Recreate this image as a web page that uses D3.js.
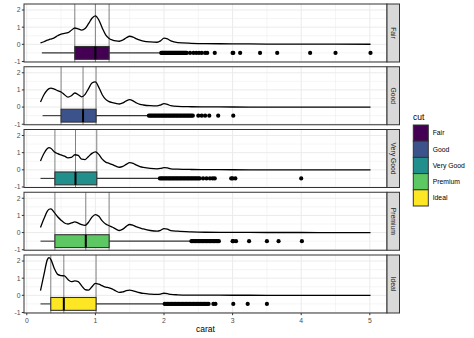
<!DOCTYPE html>
<html><head><meta charset="utf-8">
<script src="https://cdn.jsdelivr.net/npm/d3@7"></script>
<style>body{margin:0;background:#fff}svg{display:block}text{font-family:"Liberation Sans",Arial,sans-serif}</style>
</head><body>
<svg id="chart" width="474" height="338"></svg>
<script>
const cuts = ["Fair","Good","Very Good","Premium","Ideal"];
const cutColors = ["#440154","#3B528B","#21908C","#5DC863","#FDE725"];
const q1 = [0.70,0.50,0.41,0.41,0.35];
const median = [1.00,0.82,0.71,0.86,0.54];
const q3 = [1.20,1.01,1.02,1.20,1.01];
const whiskerLow = [0.22,0.23,0.20,0.20,0.20];
const whiskerHigh = [1.94,1.77,1.93,2.38,2.00];
const outliersFair = [1.96,1.97,1.98,1.99,2.00,2.01,2.02,2.03,2.04,2.05,2.06,2.07,2.08,2.09,2.10,2.11,2.12,2.13,2.14,2.15,2.16,2.17,2.18,2.19,2.20,2.21,2.22,2.23,2.24,2.25,2.26,2.27,2.28,2.29,2.30,2.31,2.32,2.33,2.38,2.43,2.47,2.51,2.55,2.60,2.63,2.74,3.00,3.01,3.11,3.40,3.65,4.13,4.50,5.01];
const outliersGood = [1.78,1.80,1.82,1.84,1.86,1.88,1.90,1.92,1.94,1.96,1.98,2.00,2.02,2.04,2.06,2.08,2.10,2.12,2.14,2.16,2.18,2.20,2.22,2.24,2.26,2.28,2.30,2.32,2.34,2.36,2.38,2.40,2.42,2.50,2.55,2.60,2.66,2.79,3.01];
const outliersVeryGood = [1.94,1.96,1.98,2.00,2.02,2.04,2.06,2.08,2.10,2.12,2.14,2.16,2.18,2.20,2.22,2.24,2.26,2.28,2.30,2.32,2.34,2.36,2.38,2.40,2.42,2.44,2.46,2.48,2.50,2.52,2.57,2.62,2.67,2.71,2.74,2.98,3.00,3.04,4.00];
const outliersPremium = [2.40,2.42,2.44,2.46,2.48,2.50,2.52,2.54,2.56,2.58,2.60,2.62,2.64,2.66,2.68,2.70,2.72,2.74,2.76,2.78,2.80,3.00,3.01,3.05,3.24,3.50,3.67,4.01];
const outliersIdeal = [2.01,2.03,2.05,2.07,2.09,2.11,2.13,2.15,2.17,2.19,2.21,2.23,2.25,2.27,2.29,2.31,2.33,2.35,2.37,2.39,2.41,2.43,2.45,2.47,2.49,2.51,2.53,2.55,2.57,2.59,2.61,2.63,2.65,2.72,2.75,3.01,3.22,3.50];
const densityX = [0.2,0.25,0.3,0.325,0.35,0.4,0.45,0.5,0.55,0.6,0.65,0.7,0.75,0.8,0.85,0.9,0.95,1.0,1.05,1.1,1.15,1.2,1.25,1.3,1.35,1.4,1.45,1.5,1.55,1.6,1.65,1.7,1.8,1.9,1.95,2.0,2.05,2.1,2.2,2.4,2.6,3.0,3.5,4.0,4.5,5.01];
const densityFair = [0.08,0.15,0.24,0.28,0.31,0.38,0.5,0.6,0.64,0.68,0.82,0.95,0.9,0.83,0.92,1.2,1.52,1.66,1.42,0.95,0.55,0.34,0.25,0.2,0.18,0.25,0.38,0.47,0.42,0.32,0.24,0.19,0.14,0.12,0.2,0.36,0.32,0.2,0.1,0.06,0.04,0.03,0.015,0.01,0.008,0.004];
const densityGood = [0.29,0.72,1.0,1.08,1.1,1.05,0.96,0.88,0.72,0.58,0.66,0.82,0.72,0.6,0.74,1.08,1.4,1.47,1.15,0.72,0.45,0.32,0.26,0.21,0.18,0.24,0.36,0.43,0.36,0.24,0.16,0.12,0.08,0.07,0.12,0.2,0.16,0.08,0.04,0.02,0.01,0.005,0,0,0,0];
const densityVeryGood = [0.52,0.95,1.24,1.29,1.26,1.05,0.94,0.87,0.8,0.7,0.72,0.88,0.84,0.62,0.6,0.78,0.96,1.05,0.9,0.62,0.45,0.38,0.3,0.21,0.15,0.2,0.32,0.42,0.38,0.27,0.19,0.14,0.08,0.06,0.08,0.13,0.11,0.06,0.04,0.02,0.01,0.005,0.002,0.002,0,0];
const densityPremium = [0.29,0.8,1.25,1.36,1.38,1.18,0.92,0.72,0.56,0.5,0.56,0.62,0.55,0.46,0.42,0.6,0.9,1.05,0.95,0.68,0.5,0.4,0.31,0.2,0.12,0.2,0.36,0.47,0.42,0.33,0.27,0.21,0.12,0.08,0.13,0.23,0.2,0.12,0.08,0.04,0.02,0.01,0.005,0.003,0,0];
const densityIdeal = [0.28,1.2,2.08,2.2,2.1,1.58,1.22,1.15,1.13,0.92,0.8,0.84,0.8,0.55,0.33,0.3,0.5,0.7,0.65,0.56,0.48,0.44,0.36,0.25,0.17,0.2,0.27,0.3,0.26,0.2,0.15,0.11,0.07,0.05,0.07,0.12,0.1,0.05,0.03,0.015,0.01,0.005,0.002,0,0,0];
const xTicks = [0,1,2,3,4,5];
const xMinor = [0.5,1.5,2.5,3.5,4.5];
const yTicks = [-1,0,1,2];
const yMinor = [-0.5,0.5,1.5];

const outliers = [outliersFair,outliersGood,outliersVeryGood,outliersPremium,outliersIdeal];
const densities = [densityFair,densityGood,densityVeryGood,densityPremium,densityIdeal];

const svg = d3.select("#chart");
svg.append("rect").attr("width",474).attr("height",338).attr("fill","#fff");
const pL = 24, pR = 387, pTop = 4, pH = 58, pStep = 62.75, stripW = 12.5;
const x = d3.scaleLinear().domain([-0.0405,5.2505]).range([pL,pR]);
const y = d3.scaleLinear().domain([-1.03,2.35]).range([pH,0]);

cuts.forEach((cut,i)=>{
  const g = svg.append("g").attr("transform",`translate(0,${pTop+i*pStep})`);
  xMinor.forEach(v=>g.append("line").attr("x1",x(v)).attr("x2",x(v)).attr("y1",0).attr("y2",pH).attr("stroke","#ebebeb").attr("stroke-width",0.5));
  yMinor.forEach(v=>g.append("line").attr("x1",pL).attr("x2",pR).attr("y1",y(v)).attr("y2",y(v)).attr("stroke","#ebebeb").attr("stroke-width",0.5));
  xTicks.forEach(v=>g.append("line").attr("x1",x(v)).attr("x2",x(v)).attr("y1",0).attr("y2",pH).attr("stroke","#ebebeb").attr("stroke-width",1));
  yTicks.forEach(v=>g.append("line").attr("x1",pL).attr("x2",pR).attr("y1",y(v)).attr("y2",y(v)).attr("stroke","#ebebeb").attr("stroke-width",1));
  [q1[i],median[i],q3[i]].forEach(v=>g.append("line").attr("x1",x(v)).attr("x2",x(v)).attr("y1",0).attr("y2",pH).attr("stroke","#808080").attr("stroke-width",1));
  const line = d3.line().x((d,j)=>x(densityX[j])).y(d=>y(d)).curve(d3.curveMonotoneX);
  g.append("path").attr("d",line(densities[i])).attr("fill","none").attr("stroke","#000").attr("stroke-width",1.3);
  g.append("line").attr("x1",x(whiskerLow[i])).attr("x2",x(q1[i])).attr("y1",y(-0.5)).attr("y2",y(-0.5)).attr("stroke","#333").attr("stroke-width",1.1);
  g.append("line").attr("x1",x(q3[i])).attr("x2",x(whiskerHigh[i])).attr("y1",y(-0.5)).attr("y2",y(-0.5)).attr("stroke","#333").attr("stroke-width",1.1);
  g.append("rect").attr("x",x(q1[i])).attr("width",x(q3[i])-x(q1[i])).attr("y",y(-0.125)).attr("height",y(-0.875)-y(-0.125))
    .attr("fill",cutColors[i]).attr("stroke","#333").attr("stroke-width",1.1);
  g.append("line").attr("x1",x(median[i])).attr("x2",x(median[i])).attr("y1",y(-0.125)).attr("y2",y(-0.875)).attr("stroke","#000").attr("stroke-width",2);
  g.selectAll("circle.o").data(outliers[i]).enter().append("circle").attr("cx",d=>x(d)).attr("cy",y(-0.5)).attr("r",2.1).attr("fill","#000");
  g.append("rect").attr("x",pL).attr("y",0).attr("width",pR-pL).attr("height",pH).attr("fill","none").attr("stroke","#333").attr("stroke-width",1);
  yTicks.forEach(v=>{
    g.append("line").attr("x1",pL-2.2).attr("x2",pL).attr("y1",y(v)).attr("y2",y(v)).attr("stroke","#333").attr("stroke-width",1);
    g.append("text").attr("x",pL-3.5).attr("y",y(v)).attr("dy","0.35em").attr("text-anchor","end").attr("font-size",6.8).attr("fill","#4d4d4d").text(v);
  });
  g.append("rect").attr("x",pR).attr("y",0).attr("width",stripW).attr("height",pH).attr("fill","#d9d9d9").attr("stroke","#333").attr("stroke-width",1);
  g.append("text").attr("transform",`translate(${pR+stripW/2},${pH/2}) rotate(90)`).attr("text-anchor","middle").attr("dy","0.35em")
    .attr("font-size",6.8).attr("fill","#1a1a1a").text(cut);
});

const bottom = pTop + 4*pStep + pH;
xTicks.forEach(v=>{
  svg.append("line").attr("x1",x(v)).attr("x2",x(v)).attr("y1",bottom).attr("y2",bottom+2.2).attr("stroke","#333").attr("stroke-width",1);
  svg.append("text").attr("x",x(v)).attr("y",bottom+9.5).attr("text-anchor","middle").attr("font-size",6.8).attr("fill","#4d4d4d").text(v);
});
svg.append("text").attr("x",(pL+pR)/2).attr("y",332).attr("text-anchor","middle").attr("font-size",8.5).attr("fill","#000").text("carat");

svg.append("text").attr("x",413).attr("y",120).attr("font-size",8.5).attr("fill","#000").text("cut");
cuts.forEach((cut,i)=>{
  const ky = 125 + i*16.2;
  svg.append("rect").attr("x",413.3).attr("y",ky).attr("width",15).attr("height",16.2).attr("fill",cutColors[i]).attr("stroke","#333").attr("stroke-width",1);
  svg.append("text").attr("x",432.7).attr("y",ky+8.1).attr("dy","0.35em").attr("font-size",6.8).attr("fill","#000").text(cut);
});
</script>
</body></html>
